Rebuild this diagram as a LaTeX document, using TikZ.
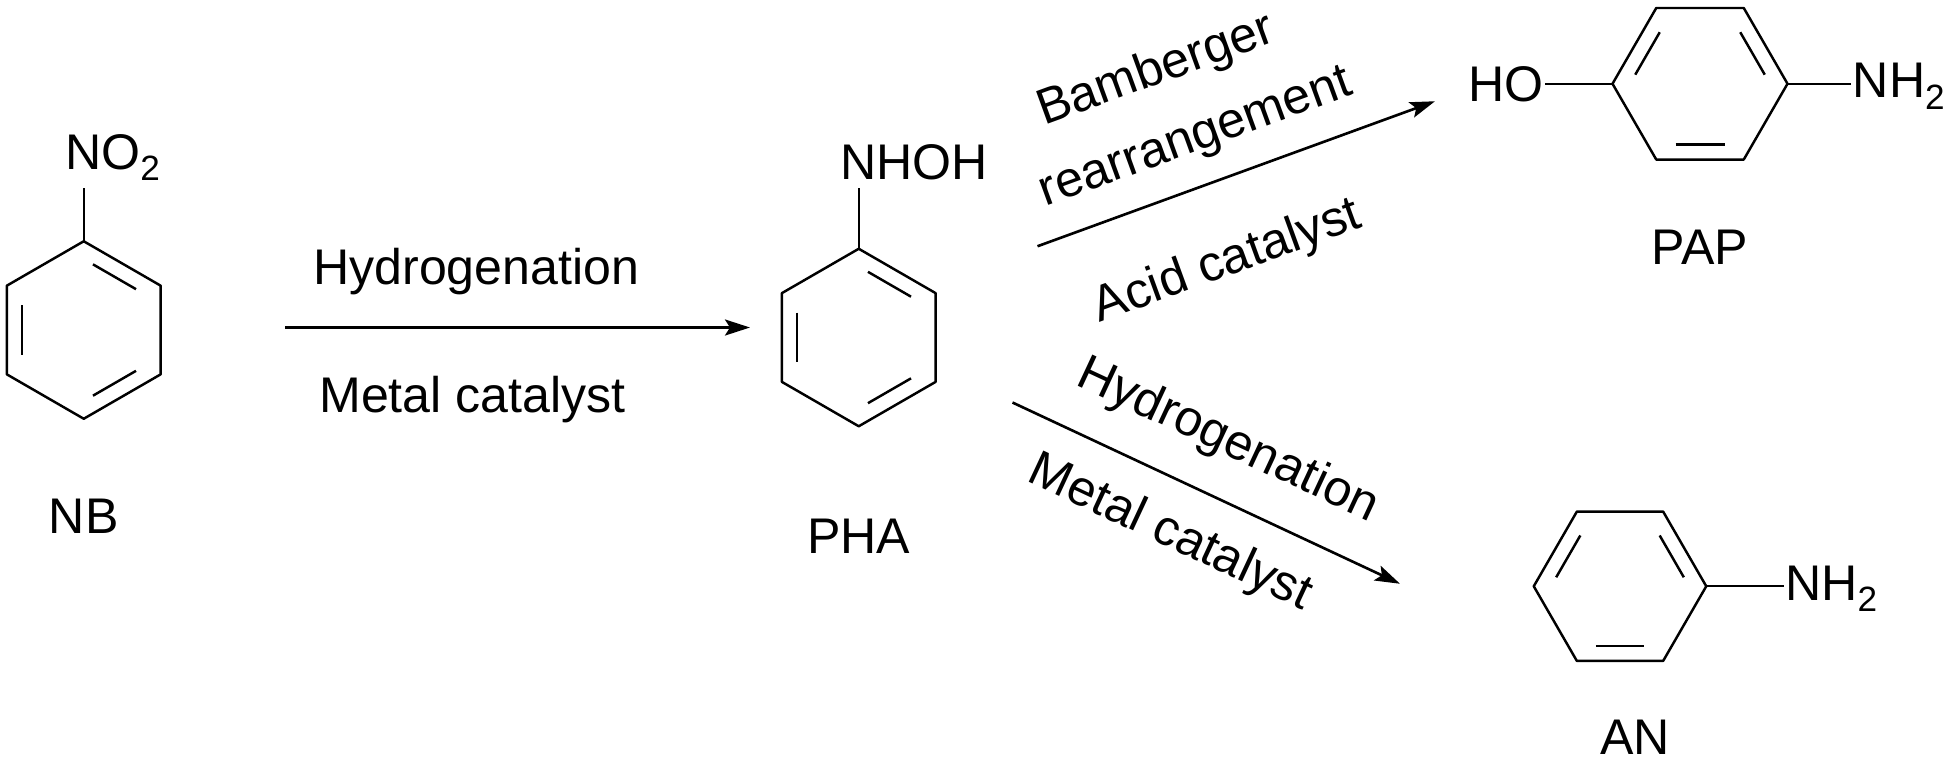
\documentclass[tikz,border=0pt]{standalone}
\usepackage{fontspec}
\setmainfont{Liberation Sans}
\usetikzlibrary{calc,arrows.meta}
\newcommand\mysub[1]{\raisebox{-0.45ex}{\fontsize{20}{24}\selectfont #1}}
\newcommand\benz[5]{% name, cx, cy, R, start angle
  \coordinate (#1c) at (#2,#3);
  \foreach \i in {1,...,6}{\coordinate (#1\i) at ($(#2,#3)+({#5+60*(\i-1)}:#4 and -#4)$);}
  \draw[bond] (#11)--(#12)--(#13)--(#14)--(#15)--(#16)--cycle;}
\newcommand\dbl[3]{% name, i, j
  \draw[bond] ($($(#1c)!0.8!(#1#2)$)!0.15!($(#1c)!0.8!(#1#3)$)$) -- ($($(#1c)!0.8!(#1#3)$)!0.15!($(#1c)!0.8!(#1#2)$)$);}
\tikzset{bond/.style={line width=1.4pt,line join=round},
  rxn/.style={line width=1.5pt,-{Stealth[length=0.5cm,width=0.32cm,inset=0.1cm]}},
  lbl/.style={font=\fontsize{28.5}{34}\selectfont,inner sep=0pt}}
\begin{document}
\begin{tikzpicture}[x=0.025cm,y=-0.025cm]
\useasboundingbox (0,0) rectangle (1568,608);
% NB
\benz{a}{67}{264}{71}{90}
\dbl{a}{1}{6}\dbl{a}{2}{3}\dbl{a}{4}{5}
\node[lbl,anchor=west] (no2) at (52,126) {NO\mysub{2}};
\draw[bond] (a1) -- (67,150);
\node[lbl] (nb) at (67,413) {NB};
% PHA
\benz{b}{687}{270}{71}{90}
\dbl{b}{1}{6}\dbl{b}{2}{3}\dbl{b}{4}{5}
\node[lbl,anchor=west] (nhoh) at (672,130) {NHOH};
\draw[bond] (b1) -- (687,150);
\node[lbl] (pha) at (687,429) {PHA};
% arrow 1
\coordinate (s1) at (228,262);
\coordinate (e1) at (600,262);
\draw[rxn] (s1) -- (e1);
\node[lbl] (h1) at (381,217) {Hydrogenation};
\node[lbl] (m1) at (378,320) {Metal catalyst};
% PAP
\benz{p}{1360}{67}{70}{180}
\dbl{p}{1}{6}\dbl{p}{5}{4}\dbl{p}{2}{3}
\node[lbl,anchor=east] (ho) at (1235,67) {HO};
\draw[bond] (p1) -- (1236,67);
\node[lbl,anchor=west] (nh2a) at (1482,69) {NH\mysub{2}};
\draw[bond] (p4) -- (1481,67);
\node[lbl] (pap) at (1360,198) {PAP};
% AN
\benz{n}{1296}{469}{69}{180}
\dbl{n}{1}{6}\dbl{n}{5}{4}\dbl{n}{2}{3}
\node[lbl,anchor=west] (nh2b) at (1428,471) {NH\mysub{2}};
\draw[bond] (n4) -- (1427,469);
\node[lbl] (an) at (1308,590) {AN};
% arrow up
\coordinate (s2) at (830,197);
\coordinate (e2) at (1148,81);
\draw[rxn] (s2) -- (e2);
\node[lbl,rotate=20] (bam) at (925,57) {Bamberger};
\node[lbl,rotate=20] (rea) at (957,112) {rearrangement};
\node[lbl,rotate=20] (acid) at (982,210) {Acid catalyst};
% arrow down
\coordinate (s3) at (810,322);
\coordinate (e3) at (1120,467);
\draw[rxn] (s3) -- (e3);
\node[lbl,rotate=-25] (h2) at (982,353) {Hydrogenation};
\node[lbl,rotate=-25] (m2) at (936,427) {Metal catalyst};
\end{tikzpicture}
\end{document}
